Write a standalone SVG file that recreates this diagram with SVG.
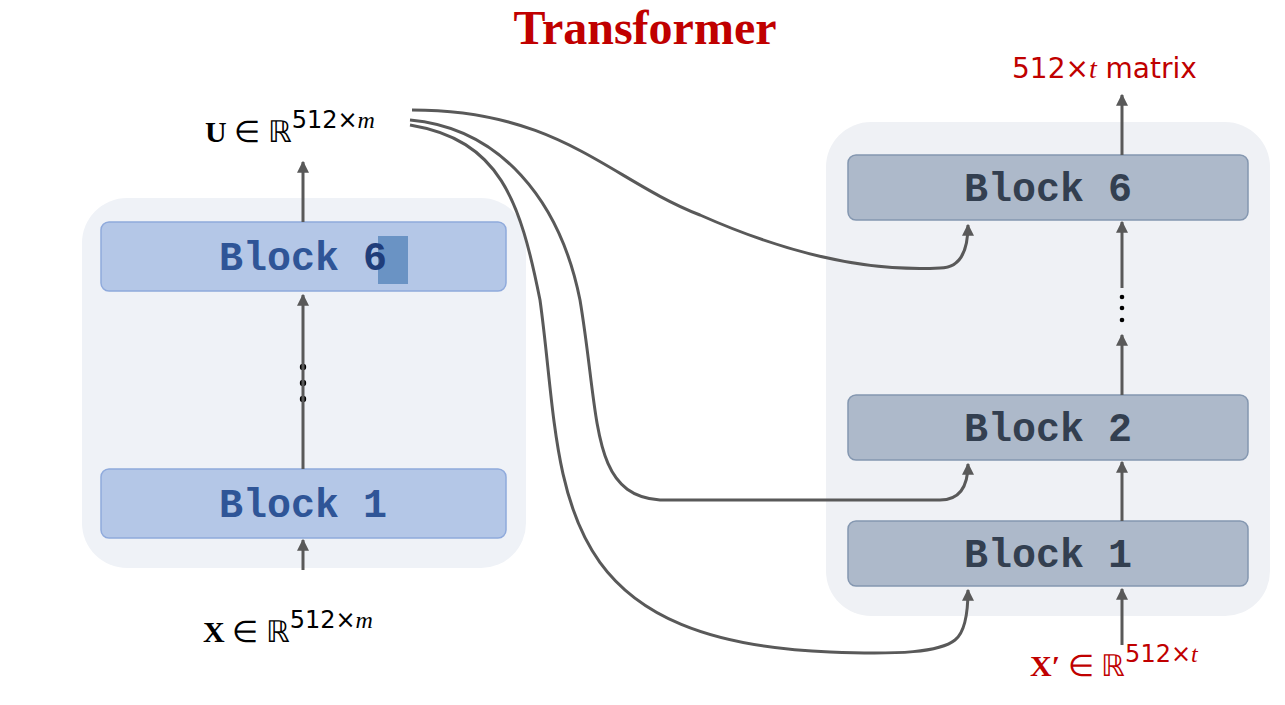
<svg xmlns="http://www.w3.org/2000/svg" width="1285" height="705" viewBox="0 0 1285 705">
<defs>
<marker id="ah" viewBox="0 0 10 10" refX="9" refY="5" markerWidth="4" markerHeight="4" orient="auto-start-reverse"><path d="M0,0 L10,5 L0,10 z" fill="#595959"/></marker>
<style>
.ln{stroke:#595959;stroke-width:3;fill:none}
.bt{font-family:"Liberation Mono",monospace;font-weight:bold;font-size:40px;text-anchor:middle}
.lb{fill:#b4c7e7;stroke:#8faadc;stroke-width:1.5}
.rb{fill:#adb9ca;stroke:#8497b0;stroke-width:1.5}
.m{font-family:"Liberation Serif",serif;font-size:30px}
</style>
</defs>
<rect width="1285" height="705" fill="#fff"/>
<text x="645" y="44" text-anchor="middle" font-family="Liberation Serif,serif" font-weight="bold" font-size="48" fill="#c00000">Transformer</text>
<rect x="82" y="198" width="444" height="370" rx="45" fill="#eff2f7"/>
<rect x="826" y="122" width="444" height="494" rx="45" fill="#eff1f5"/>
<g id="l6"><rect class="lb" x="101" y="222" width="405" height="69" rx="8"/><rect x="378" y="236" width="30" height="48" fill="#6a93c4"/><text class="bt" x="303" y="270" fill="#2f5597">Block <tspan fill="#1f3d7a">6</tspan></text></g>
<g id="l1"><rect class="lb" x="101" y="469" width="405" height="69" rx="8"/><text class="bt" x="303" y="517" fill="#2f5597">Block 1</text></g>
<g id="r6"><rect class="rb" x="848" y="155" width="400" height="65" rx="8"/><text class="bt" x="1048" y="201" fill="#333f50">Block 6</text></g>
<g id="r2"><rect class="rb" x="848" y="395" width="400" height="65" rx="8"/><text class="bt" x="1048" y="441" fill="#333f50">Block 2</text></g>
<g id="r1"><rect class="rb" x="848" y="521" width="400" height="65" rx="8"/><text class="bt" x="1048" y="567" fill="#333f50">Block 1</text></g>
<g fill="#000"><circle cx="303" cy="367" r="3.2"/><circle cx="303" cy="383" r="3.2"/><circle cx="303" cy="399" r="3.2"/>
<circle cx="1122" cy="297" r="2.3"/><circle cx="1122" cy="308" r="2.3"/><circle cx="1122" cy="320" r="2.3"/></g>
<g id="labels">
<text class="m" x="205" y="142"><tspan font-weight="bold">U</tspan> ∈ ℝ<tspan dy="-14" font-size="24" font-family="DejaVu Sans,sans-serif">512×<tspan font-style="italic" font-family="Liberation Serif,serif">m</tspan></tspan></text>
<text class="m" x="203" y="642"><tspan font-weight="bold">X</tspan> ∈ ℝ<tspan dy="-14" font-size="24" font-family="DejaVu Sans,sans-serif">512×<tspan font-style="italic" font-family="Liberation Serif,serif">m</tspan></tspan></text>
<text class="m" x="1030" y="676" fill="#c00000"><tspan font-weight="bold">X′</tspan> ∈ ℝ<tspan dy="-14" font-size="24" font-family="DejaVu Sans,sans-serif">512×<tspan font-style="italic" font-family="Liberation Serif,serif">t</tspan></tspan></text>
<text x="1012" y="78" font-family="DejaVu Sans,sans-serif" font-size="28" fill="#c00000">512×<tspan font-style="italic" font-family="Liberation Serif,serif">t</tspan> matrix</text>
</g>
<g id="connectors" class="ln" marker-end="url(#ah)">
<path class="ln" d="M303,570 V540" marker-end="url(#ah)"/>
<path class="ln" d="M303,469 V295" marker-end="url(#ah)" stroke-dasharray="0"/>
<path class="ln" d="M303,222 V162" marker-end="url(#ah)"/>
<path class="ln" d="M1122,645 V589" marker-end="url(#ah)"/>
<path class="ln" d="M1122,521 V462" marker-end="url(#ah)"/>
<path class="ln" d="M1122,395 V335" marker-end="url(#ah)"/>
<path class="ln" d="M1122,288 V222" marker-end="url(#ah)"/>
<path class="ln" d="M1122,155 V95" marker-end="url(#ah)"/>
<path class="ln" d="M412,110 C560,110 610,180 700,215 C790,255 870,272 940,268 Q968,268 968,225" marker-end="url(#ah)"/>
<path class="ln" d="M410,120 C500,128 560,200 580,300 C600,420 590,495 660,500 L940,500 Q968,500 968,464" marker-end="url(#ah)"/>
<path class="ln" d="M410,125 C500,140 520,200 540,300 C565,480 540,640 830,652 C900,655 940,652 955,640 Q968,630 968,590" marker-end="url(#ah)"/>
</g>
</svg>
